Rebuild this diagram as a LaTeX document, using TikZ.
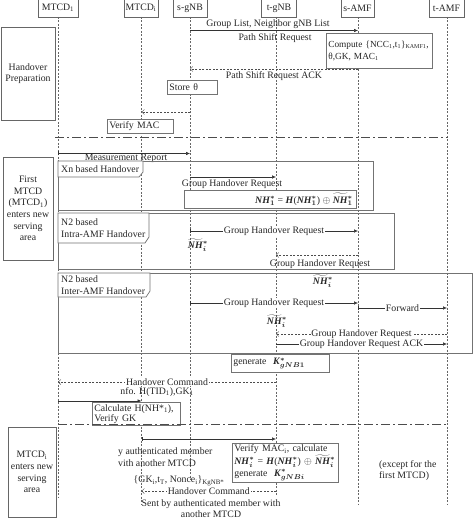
\documentclass[tikz,border=0pt]{standalone}
\usepackage{amsmath,bm}
\usepackage{fontspec}
\setmainfont{Liberation Serif}
\usetikzlibrary{arrows.meta,calc}
\newcommand{\bNH}{\textbf{\textit{NH}}}
\newcommand{\bK}{\textbf{\textit{K}}}
\newcommand{\tNH}{$\widetilde{\text{\bNH}}$}
\newcommand{\tsb}[1]{\textsubscript{\fontsize{6}{6}\selectfont #1}}
\begin{document}
\begin{tikzpicture}[x=1pt,y=-1pt,
 every node/.style={font=\fontsize{9.8}{11.6}\selectfont, text=black!85},
 hdr/.style={draw=black!60, fill=white, minimum height=18pt, inner sep=1pt, line width=0.6pt},
 life/.style={draw=black!60, dash pattern=on 2pt off 1.5pt, line width=0.5pt},
 tbox/.style={draw=black!55, fill=white, line width=0.7pt, align=left, inner sep=2pt, anchor=north west},
 msg/.style={draw=black!80, line width=0.5pt, -{Latex[length=4pt,width=3.5pt]}},
 bmsg/.style={draw=black!80, line width=0.5pt, {Bar[width=4pt]}-{Latex[length=4pt,width=3.5pt]}},
 rmsg/.style={draw=black!70, line width=0.5pt, dash pattern=on 2pt off 1.5pt, -{Straight Barb[length=2.5pt,width=5pt]}},
 lbl/.style={fill=white, inner sep=0.8pt},
 sepline/.style={draw=black!70, line width=0.9pt, dash pattern=on 9pt off 3pt on 2pt off 3pt},
 frm/.style={draw=black!55, line width=0.7pt},
 side/.style={draw=black!60, fill=white, align=center, line width=0.7pt, inner sep=1pt},
]
\useasboundingbox (0,0) rectangle (474,521);

% headers
\node[hdr, minimum width=40pt] (h1) at (58,8) {MTCD\textsubscript{1}};
\node[hdr, minimum width=34pt] (h2) at (141,8) {MTCD\textsubscript{i}};
\node[hdr, minimum width=34pt] (h3) at (190,8) {s-gNB};
\node[hdr, minimum width=35pt] (h4) at (279,8) {t-gNB};
\node[hdr, minimum width=33pt] (h5) at (357.5,8) {s-AMF};
\node[hdr, minimum width=35pt] (h6) at (446.5,8) {t-AMF};

% lifelines
\coordinate (l1t) at (58,17);  \coordinate (l1b) at (58,497);
\coordinate (l2t) at (141.5,17); \coordinate (l2b) at (141.5,505);
\coordinate (l3t) at (190,17); \coordinate (l3b) at (190,480);
\coordinate (l4t) at (276,17); \coordinate (l4b) at (276,495);
\coordinate (l5t) at (358,17); \coordinate (l5b) at (358,505);
\coordinate (l6t) at (447,17); \coordinate (l6b) at (447,505);
\foreach \i in {1,...,6} {\draw[life] (l\i t) -- (l\i b);}

% ---------- Handover preparation ----------
\node[side, minimum width=54pt, minimum height=93pt] (hp) at (28,73.5) {Handover\\Preparation};

\coordinate (a1s) at (190,30.5); \coordinate (a1e) at (358,30.5);
\draw[msg] (a1s) -- (a1e);
\node (a1l) at (268,24) {Group List, Neighbor gNB List};
\node (psr) at (275,38) {Path Shift Request};

\node[tbox, minimum width=106pt, minimum height=35pt, text width=102pt, font=\fontsize{9.3}{12}\selectfont] (cmp) at (326,33)
  {Compute \{NCC\tsb{1},t\tsb{1}\}\tsb{KAMF1},\\θ,GK, MAC\tsb{1}};

\coordinate (a2s) at (358,69); \coordinate (a2e) at (190,69);
\draw[rmsg] (a2s) -- (a2e);
\node (a2l) at (274,76.5) {Path Shift Request ACK};

\node[tbox, minimum width=50pt, minimum height=14pt, text width=46pt] (st) at (167,80) {Store θ};

\coordinate (a3s) at (190,112); \coordinate (a3e) at (141.5,112);
\draw[rmsg] (a3s) -- (a3e);
\node[tbox, minimum width=66pt, minimum height=14pt, text width=62pt] (vm) at (107,119) {Verify MAC};

\coordinate (s1a) at (55,137); \coordinate (s1b) at (448,137);
\draw[sepline] (s1a) -- (s1b);

% ---------- First MTCD ----------
\node[side, minimum width=50pt, minimum height=103pt] (fm) at (28,208.5)
  {First\\MTCD\\(MTCD\textsubscript{1})\\enters new\\serving\\area};

\coordinate (b1s) at (58,153.5); \coordinate (b1e) at (190,153.5);
\draw[bmsg] (b1s) -- (b1e);
\node (b1l) at (126,158) {Measurement Report};

% Xn frame
\draw[frm] (58,161) rectangle (373,210);
\draw[frm, fill=white] (58,161) -- (143,161) -- (143,172) -- (139,177) -- (58,177) -- cycle;
\node[anchor=west, inner sep=1pt] (txn) at (60,169) {Xn based Handover};
\coordinate (b2s) at (190,177); \coordinate (b2e) at (276,177);
\draw[msg] (b2s) -- (b2e);
\node (b2l) at (232,184.5) {Group Handover Request};
\node[draw=black!55, fill=white, line width=0.7pt, minimum width=172pt, minimum height=18pt, anchor=north west] (fx) at (184,190) {};
\node[anchor=east, inner sep=1pt] (fxt) at (354,199.5)
  {\bNH$^{\bm *}_{\bm 1}$ = \textbf{\textit{H}}(\bNH$^{\bm *}_{\bm 1}$) $\oplus$ \tNH$^{\bm *}_{\bm 1}$};

% Intra-AMF frame
\draw[frm] (58,213) rectangle (394,269);
\draw[frm, fill=white] (58,213) -- (149,213) -- (149,237) -- (145,243) -- (58,243) -- cycle;
\node[anchor=west, align=left, inner sep=1pt] (tin) at (60,228) {N2 based\\Intra-AMF Handover};
\coordinate (c1s) at (190,231); \coordinate (c1e) at (358,231);
\draw[bmsg] (c1s) -- (c1e) node[lbl, midway] (c1l) {Group Handover Request};
\node (nh1) at (198,245) {\tNH$^{\bm *}_{\bm i}$};
\coordinate (c2s) at (358,255); \coordinate (c2e) at (276,255);
\draw[rmsg] (c2s) -- (c2e);
\node (c2l) at (320,264) {Group Handover Request};

% Inter-AMF frame
\draw[frm] (58,273) rectangle (472,353);
\draw[frm, fill=white] (58,273) -- (150,273) -- (150,291) -- (146,297) -- (58,297) -- cycle;
\node[anchor=west, align=left, inner sep=1pt] (tie) at (60,285) {N2 based\\Inter-AMF Handover};
\node (nh2) at (323,281) {\tNH$^{\bm *}_{\bm i}$};
\coordinate (d1s) at (190,303); \coordinate (d1e) at (358,303);
\draw[bmsg] (d1s) -- (d1e) node[lbl, midway] (d1l) {Group Handover Request};
\coordinate (d2s) at (358,308); \coordinate (d2e) at (447,308);
\draw[bmsg] (d2s) -- (d2e) node[lbl, midway] (d2l) {Forward};
\node (nh3) at (277,321) {\tNH$^{\bm *}_{\bm i}$};
\coordinate (d3s) at (447,334); \coordinate (d3e) at (276,334);
\draw[rmsg] (d3s) -- (d3e) node[lbl, midway] (d3l) {Group Handover Request};
\coordinate (d4s) at (276,344); \coordinate (d4e) at (447,344);
\draw[msg] (d4s) -- (d4e) node[lbl, midway] (d4l) {Group Handover Request ACK};

\node[tbox, minimum width=98pt, minimum height=18pt, text width=94pt] (gen) at (231,354)
  {generate \ \bK$^{\bm *}_{\bm{gNB1}}$};

\coordinate (e1s) at (276,382); \coordinate (e1e) at (58,382);
\draw[rmsg] (e1s) -- (e1e) node[lbl, pos=0.5] (e1l) {Handover Command};
\node (e1i) at (157,392) {nfo. H(TID\textsubscript{1}),GK\textsubscript{1}};
\coordinate (e2s) at (58,401); \coordinate (e2e) at (141.5,401);
\draw[msg] (e2s) -- (e2e);
\node[tbox, minimum width=88pt, minimum height=21pt, text width=84pt, inner sep=2pt, font=\fontsize{9.8}{10.5}\selectfont] (calc) at (92,402)
  {Calculate H(NH*\textsubscript{1}),\\Verify GK};

\coordinate (s2a) at (58,424); \coordinate (s2b) at (447,424);
\draw[sepline] (s2a) -- (s2b);

% ---------- MTCDi ----------
\node[side, minimum width=48pt, minimum height=90pt] (mi) at (32,472)
  {MTCD\textsubscript{i}\\enters new\\serving\\area};
\coordinate (f1s) at (141.5,439); \coordinate (f1e) at (276,439);
\draw[bmsg] (f1s) -- (f1e);
\node[anchor=west, align=left, inner sep=0pt] (sb1) at (118,457) {y authenticated member\\vith another MTCD};
\node[tbox, minimum width=106pt, minimum height=39pt, text width=102pt, inner sep=1.5pt, font=\fontsize{9.8}{12.4}\selectfont] (vmi) at (232,443)
  {Verify MAC\textsubscript{i}, calculate\\
   \bNH$^{\bm *}_{\bm i}$ = \textbf{\textit{H}}(\bNH$^{\bm *}_{\bm i}$) $\oplus$ \tNH$^{\bm *}_{\bm i}$\\
   generate \ \bK$^{\bm *}_{\bm{gNBi}}$};
\node (gk) at (179,481) {\{GK\textsubscript{i},t\textsubscript{T}, Nonce\textsubscript{i}\}\textsubscript{KgNB*}};
\coordinate (f2s) at (276,491); \coordinate (f2e) at (141.5,491);
\draw[rmsg] (f2s) -- (f2e) node[lbl, midway] (f2l) {Handover Command};
\node[align=center, inner sep=0pt] (sb2) at (211,508.5) {Sent by authenticated member with\\another MTCD};
\node[anchor=west, align=left, inner sep=0pt] (exc) at (379,470.5) {(except for the\\first MTCD)};
\end{tikzpicture}
\end{document}
